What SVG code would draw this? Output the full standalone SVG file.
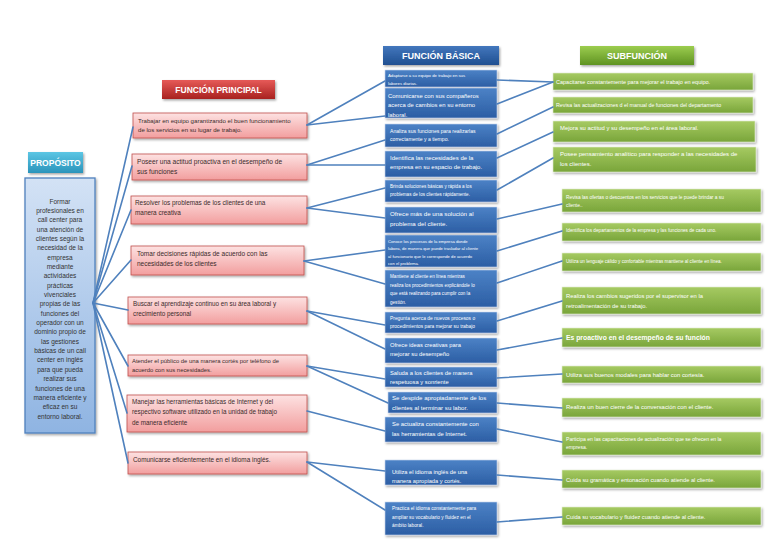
<svg xmlns="http://www.w3.org/2000/svg" width="768" height="543" viewBox="0 0 768 543">
<defs>
<linearGradient id="gPink" x1="0" y1="0" x2="0" y2="1"><stop offset="0" stop-color="#fde2e2"/><stop offset="1" stop-color="#f29e9e"/></linearGradient>
<linearGradient id="gBlue" x1="0" y1="0" x2="0" y2="1"><stop offset="0" stop-color="#4c82c6"/><stop offset="1" stop-color="#2c5ea4"/></linearGradient>
<linearGradient id="gGreen" x1="0" y1="0" x2="0" y2="1"><stop offset="0" stop-color="#a6ca62"/><stop offset="1" stop-color="#79a53a"/></linearGradient>
<linearGradient id="gProp" x1="0" y1="0" x2="0" y2="1"><stop offset="0" stop-color="#d3e2f5"/><stop offset="1" stop-color="#8fb4e2"/></linearGradient>
<linearGradient id="hTeal" x1="0" y1="0" x2="0" y2="1"><stop offset="0" stop-color="#5cc6e4"/><stop offset="1" stop-color="#2a94bb"/></linearGradient>
<linearGradient id="hRed" x1="0" y1="0" x2="0" y2="1"><stop offset="0" stop-color="#e65a58"/><stop offset="1" stop-color="#a8221f"/></linearGradient>
<linearGradient id="hBlue" x1="0" y1="0" x2="0" y2="1"><stop offset="0" stop-color="#4377bd"/><stop offset="1" stop-color="#1f4f91"/></linearGradient>
<linearGradient id="hGreen" x1="0" y1="0" x2="0" y2="1"><stop offset="0" stop-color="#9ccd4f"/><stop offset="1" stop-color="#5f9322"/></linearGradient>
<filter id="sh" x="-10%" y="-20%" width="130%" height="160%"><feDropShadow dx="1.2" dy="1.5" stdDeviation="0.9" flood-color="#000" flood-opacity="0.35"/></filter>
</defs>
<style>
text{font-family:"Liberation Sans",Arial,sans-serif}
.fp rect{fill:url(#gPink);stroke:#c0504d;stroke-width:0.8;filter:url(#sh)}
.fp text{fill:#3b2b2b}
.fb rect{fill:url(#gBlue);stroke:#c9d8ee;stroke-width:0.6;filter:url(#sh)}
.fb text{fill:#ffffff}
.sf rect{fill:url(#gGreen);stroke:#e4eed4;stroke-width:0.6;filter:url(#sh)}
.sf text{fill:#ffffff}
.hd rect{filter:url(#sh)}
.hd text{font-weight:bold;fill:#ffffff;text-anchor:middle}
.conn line{stroke:#4f81bd;stroke-width:1.6;stroke-linecap:round}
</style>
<rect width="768" height="543" fill="#ffffff"/>

<g id="hdr-proposito" class="hd"><rect x="28" y="152" width="55" height="21" fill="url(#hTeal)"/><text x="55.5" y="165.5" font-size="8.5">PROPÓSITO</text></g>
<g id="hdr-principal" class="hd"><rect x="162" y="80" width="113" height="19" fill="url(#hRed)"/><text x="218.5" y="92.5" font-size="8.5">FUNCIÓN PRINCIPAL</text></g>
<g id="hdr-basica" class="hd"><rect x="383" y="46" width="116" height="19" fill="url(#hBlue)"/><text x="441" y="59" font-size="9">FUNCIÓN BÁSICA</text></g>
<g id="hdr-sub" class="hd"><rect x="580" y="46" width="114" height="19" fill="url(#hGreen)"/><text x="637" y="59" font-size="9">SUBFUNCIÓN</text></g>

<g id="proposito">
<rect x="25" y="178" width="70" height="255" fill="url(#gProp)" stroke="#4f81bd" stroke-width="1.3" filter="url(#sh)"/>
<text x="60" y="203.5" font-size="6.5" fill="#333333" text-anchor="middle">
<tspan x="60">Formar</tspan><tspan x="60" dy="9.35">profesionales en</tspan><tspan x="60" dy="9.35">call center  para</tspan><tspan x="60" dy="9.35">una atención de</tspan><tspan x="60" dy="9.35">clientes según la</tspan><tspan x="60" dy="9.35">necesidad de la</tspan><tspan x="60" dy="9.35">empresa</tspan><tspan x="60" dy="9.35">mediante</tspan><tspan x="60" dy="9.35">actividades</tspan><tspan x="60" dy="9.35">prácticas</tspan><tspan x="60" dy="9.35">vivenciales</tspan><tspan x="60" dy="9.35">propias de las</tspan><tspan x="60" dy="9.35">funciones del</tspan><tspan x="60" dy="9.35">operador con un</tspan><tspan x="60" dy="9.35">dominio propio de</tspan><tspan x="60" dy="9.35">las gestiones</tspan><tspan x="60" dy="9.35">básicas de un call</tspan><tspan x="60" dy="9.35">center en inglés</tspan><tspan x="60" dy="9.35">para  que pueda</tspan><tspan x="60" dy="9.35">realizar sus</tspan><tspan x="60" dy="9.35">funciones  de una</tspan><tspan x="60" dy="9.35">manera eficiente y</tspan><tspan x="60" dy="9.35">eficaz en su</tspan><tspan x="60" dy="9.35">entorno laboral.</tspan>
</text>
</g>

<g id="fp1" class="fp"><rect x="133" y="113" width="174" height="25"/><text font-size="6.1"><tspan x="138" y="122.5">Trabajar en equipo garantizando el buen funcionamiento</tspan><tspan x="138" y="131.5">de los servicios en su lugar de trabajo.</tspan></text></g>
<g id="fp2" class="fp"><rect x="132" y="154" width="175" height="26"/><text font-size="6.6"><tspan x="137" y="163.5">Poseer una actitud proactiva en el desempeño de</tspan><tspan x="137" y="174">sus funciones</tspan></text></g>
<g id="fp3" class="fp"><rect x="131" y="196" width="176" height="28"/><text font-size="6.4"><tspan x="135" y="205">Resolver los problemas de los clientes de una</tspan><tspan x="135" y="214.5">manera creativa</tspan></text></g>
<g id="fp4" class="fp"><rect x="131" y="246" width="173" height="29"/><text font-size="6.5"><tspan x="137" y="255.5">Tomar decisiones rápidas de acuerdo con las</tspan><tspan x="137" y="265.5">necesidades de los clientes</tspan></text></g>
<g id="fp5" class="fp"><rect x="128" y="297" width="179" height="27"/><text font-size="6.3"><tspan x="133" y="305.5">Buscar el aprendizaje continuo en su área laboral y</tspan><tspan x="133" y="315.5">crecimiento personal</tspan></text></g>
<g id="fp6" class="fp"><rect x="128" y="355" width="179" height="21"/><text font-size="5.9"><tspan x="132" y="363">Atender el público de una manera cortés por teléfono de</tspan><tspan x="132" y="372">acuerdo con sus necesidades.</tspan></text></g>
<g id="fp7" class="fp"><rect x="127" y="395" width="180" height="37"/><text font-size="6.3"><tspan x="132" y="404">Manejar las herramientas básicas de Internet y del</tspan><tspan x="132" y="414">respectivo software utilizado en la unidad de trabajo</tspan><tspan x="132" y="424.5">de manera eficiente</tspan></text></g>
<g id="fp8" class="fp"><rect x="128" y="452" width="179" height="22"/><text font-size="6.4"><tspan x="133" y="462">Comunicarse eficientemente en el idioma inglés.</tspan></text></g>

<g id="fb1" class="fb"><rect x="385" y="70" width="112" height="17"/><text font-size="4.3"><tspan x="388" y="77">Adaptarse  a su equipo  de trabajo en sus</tspan><tspan x="388" y="84.5">labores diarias.</tspan></text></g>
<g id="fb2" class="fb"><rect x="385" y="88" width="112" height="30"/><text font-size="5.9"><tspan x="388" y="98">Comunicarse con sus compañeros</tspan><tspan x="388" y="107">acerca de cambios en su entorno</tspan><tspan x="388" y="116.5">laboral.</tspan></text></g>
<g id="fb3" class="fb"><rect x="385" y="124" width="112" height="23"/><text font-size="5.1"><tspan x="390" y="132.5">Analiza sus funciones para realizarlas</tspan><tspan x="390" y="140.5">correctamente y a tiempo.</tspan></text></g>
<g id="fb4" class="fb"><rect x="385" y="151" width="112" height="26"/><text font-size="6"><tspan x="390" y="159.5">Identifica las necesidades de la</tspan><tspan x="390" y="169">empresa en su espacio de trabajo.</tspan></text></g>
<g id="fb5" class="fb"><rect x="385" y="180" width="112" height="22"/><text font-size="4.6"><tspan x="390" y="187.5">Brinda soluciones básicas y rápida a los</tspan><tspan x="390" y="195.5">problemas de  los clientes rápidamente.</tspan></text></g>
<g id="fb6" class="fb"><rect x="385" y="207" width="112" height="26"/><text font-size="6.2"><tspan x="390" y="216">Ofrece más de una solución al</tspan><tspan x="390" y="226">problema del cliente.</tspan></text></g>
<g id="fb7" class="fb"><rect x="385" y="235" width="112" height="32"/><text font-size="4.2"><tspan x="388" y="242.5">Conoce los procesos  de la empresa  donde</tspan><tspan x="388" y="250">labora, de manera que puede trasladar al cliente</tspan><tspan x="388" y="257.5">al funcionario que le corresponde de acuerdo</tspan><tspan x="388" y="265">con el problema.</tspan></text></g>
<g id="fb8" class="fb"><rect x="385" y="270" width="112" height="37"/><text font-size="4.6"><tspan x="390" y="278">Mantiene al cliente en línea mientras</tspan><tspan x="390" y="286.5">realiza los procedimientos explicándole lo</tspan><tspan x="390" y="295">que está realizando para cumplir con la</tspan><tspan x="390" y="303.5">gestión.</tspan></text></g>
<g id="fb9" class="fb"><rect x="385" y="312" width="112" height="21"/><text font-size="4.9"><tspan x="390" y="320">Pregunta acerca de nuevos procesos o</tspan><tspan x="390" y="328">procedimientos para mejorar su trabajo</tspan></text></g>
<g id="fb10" class="fb"><rect x="385" y="338" width="112" height="25"/><text font-size="5.8"><tspan x="390" y="346.5">Ofrece ideas creativas para</tspan><tspan x="390" y="356">mejorar su desempeño</tspan></text></g>
<g id="fb11" class="fb"><rect x="385" y="367" width="112" height="20"/><text font-size="5.8"><tspan x="390" y="374.5">Saluda a los clientes de manera</tspan><tspan x="390" y="383.5">respetuosa y sonriente</tspan></text></g>
<g id="fb12" class="fb"><rect x="388" y="392" width="109" height="21"/><text font-size="6.1"><tspan x="392" y="400">Se despide apropiadamente de los</tspan><tspan x="392" y="409.5">clientes al terminar su labor.</tspan></text></g>
<g id="fb13" class="fb"><rect x="385" y="417" width="112" height="25"/><text font-size="5.9"><tspan x="392" y="425.5">Se actualiza constantemente con</tspan><tspan x="392" y="435.5">las herramientas de Internet.</tspan></text></g>
<g id="fb14" class="fb"><rect x="385" y="460" width="112" height="25"/><text font-size="5.7"><tspan x="392" y="474">Utiliza el idioma inglés de una</tspan><tspan x="392" y="483">manera apropiada y cortés.</tspan></text></g>
<g id="fb15" class="fb"><rect x="385" y="502" width="112" height="33"/><text font-size="4.8"><tspan x="392" y="510">Practica el idioma constantemente para</tspan><tspan x="392" y="518.5">ampliar su vocabulario y fluidez en el</tspan><tspan x="392" y="527">ámbito laboral.</tspan></text></g>

<g id="sf1" class="sf"><rect x="553" y="73" width="200" height="17"/><text font-size="5.5"><tspan x="556" y="84">Capacitarse constantemente para mejorar el trabajo en equipo.</tspan></text></g>
<g id="sf2" class="sf"><rect x="553" y="97" width="200" height="16"/><text font-size="5.3"><tspan x="556" y="107">Revisa las actualizaciones d el manual de funciones  del departamento</tspan></text></g>
<g id="sf3" class="sf"><rect x="553" y="121" width="202" height="21"/><text font-size="5.9"><tspan x="560" y="130">Mejora su actitud  y su  desempeño en el área laboral.</tspan></text></g>
<g id="sf4" class="sf"><rect x="553" y="147" width="203" height="25"/><text font-size="6"><tspan x="560" y="155.5">Posee pensamiento analítico para responder a las necesidades de</tspan><tspan x="560" y="165.5">los clientes.</tspan></text></g>
<g id="sf5" class="sf"><rect x="562" y="189" width="199" height="23"/><text font-size="4.8"><tspan x="566" y="199">Revisa las ofertas o descuentos en los servicios que le puede brindar a su</tspan><tspan x="566" y="207">cliente..</tspan></text></g>
<g id="sf6" class="sf"><rect x="562" y="223" width="199" height="18"/><text font-size="4.7"><tspan x="566" y="232">Identifica los departamentos  de la empresa y las funciones de cada uno.</tspan></text></g>
<g id="sf7" class="sf"><rect x="562" y="253" width="199" height="18"/><text font-size="4.6"><tspan x="566" y="262.5">Utiliza un lenguaje cálido y confortable mientras mantiene al cliente en línea.</tspan></text></g>
<g id="sf8" class="sf"><rect x="562" y="287" width="199" height="27"/><text font-size="5.8"><tspan x="566" y="298">Realiza los cambios sugeridos por el supervisor en la</tspan><tspan x="566" y="307.5">retroalimentación de su trabajo.</tspan></text></g>
<g id="sf9" class="sf"><rect x="562" y="328" width="199" height="19"/><text font-size="6.8" font-weight="bold"><tspan x="566" y="340">Es proactivo en el desempeño de su función</tspan></text></g>
<g id="sf10" class="sf"><rect x="562" y="366" width="199" height="17"/><text font-size="5.9"><tspan x="566" y="376.5">Utiliza sus buenos modales para hablar con cortesía.</tspan></text></g>
<g id="sf11" class="sf"><rect x="562" y="398" width="199" height="19"/><text font-size="5.9"><tspan x="566" y="409">Realiza un buen cierre de la conversación con el cliente.</tspan></text></g>
<g id="sf12" class="sf"><rect x="562" y="432" width="199" height="23"/><text font-size="5.1"><tspan x="566" y="440.5">Participa en las capacitaciones de actualización que se ofrecen en la</tspan><tspan x="566" y="449">empresa.</tspan></text></g>
<g id="sf13" class="sf"><rect x="562" y="470" width="199" height="18"/><text font-size="5.7"><tspan x="566" y="481.5">Cuida su gramática y entonación cuando atiende al cliente.</tspan></text></g>
<g id="sf14" class="sf"><rect x="562" y="507" width="199" height="18"/><text font-size="5.6"><tspan x="566" y="518.5">Cuida su vocabulario y fluidez cuando atiende al cliente.</tspan></text></g>

<g id="connectors" class="conn">
<line x1="93" y1="303" x2="133" y2="127"/>
<line x1="93" y1="303" x2="132" y2="166"/>
<line x1="93" y1="303" x2="131" y2="210"/>
<line x1="93" y1="303" x2="131" y2="260"/>
<line x1="93" y1="303" x2="128" y2="310"/>
<line x1="93" y1="303" x2="128" y2="366"/>
<line x1="93" y1="303" x2="127" y2="413"/>
<line x1="93" y1="303" x2="128" y2="463"/>

<line x1="307" y1="125" x2="385" y2="81"/>
<line x1="307" y1="125" x2="385" y2="116"/>
<line x1="307" y1="165" x2="385" y2="140"/>
<line x1="307" y1="165" x2="385" y2="165"/>
<line x1="307" y1="208" x2="385" y2="188"/>
<line x1="307" y1="208" x2="385" y2="218"/>
<line x1="304" y1="261" x2="385" y2="250"/>
<line x1="304" y1="261" x2="385" y2="284"/>
<line x1="307" y1="311" x2="385" y2="325"/>
<line x1="307" y1="311" x2="385" y2="349"/>
<line x1="307" y1="366" x2="385" y2="379"/>
<line x1="307" y1="366" x2="388" y2="403"/>
<line x1="307" y1="411" x2="385" y2="431"/>
<line x1="307" y1="462" x2="385" y2="471"/>
<line x1="307" y1="462" x2="385" y2="510"/>

<line x1="497" y1="80" x2="553" y2="82"/>
<line x1="497" y1="104" x2="553" y2="82"/>
<line x1="497" y1="134" x2="553" y2="107"/>
<line x1="497" y1="158" x2="553" y2="132"/>
<line x1="497" y1="190" x2="553" y2="158"/>
<line x1="497" y1="219" x2="562" y2="204"/>
<line x1="497" y1="251" x2="562" y2="231"/>
<line x1="497" y1="283" x2="562" y2="261"/>
<line x1="497" y1="321" x2="562" y2="301"/>
<line x1="497" y1="350" x2="562" y2="338"/>
<line x1="497" y1="378" x2="562" y2="374"/>
<line x1="497" y1="403" x2="562" y2="408"/>
<line x1="497" y1="429" x2="562" y2="442"/>
<line x1="497" y1="475" x2="562" y2="480"/>
<line x1="497" y1="522" x2="562" y2="517"/>
</g>
</svg>
